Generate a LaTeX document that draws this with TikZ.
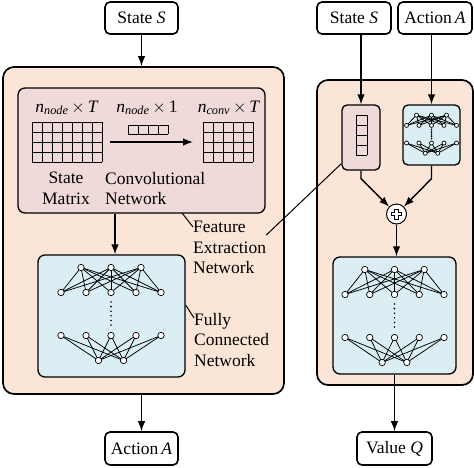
\documentclass[tikz,border=0pt]{standalone}
\usepackage{fontspec}
\setmainfont{Liberation Serif}
\usetikzlibrary{arrows.meta}

\definecolor{peach}{RGB}{251,229,214}
\definecolor{rosy}{RGB}{240,217,217}
\definecolor{icy}{RGB}{218,238,243}

% small fully connected net: centre x, centre y, x step, y scale, neuron radius
\newcommand{\fcnet}[5]{%
\begin{scope}[shift={(#1,#2)}]
  \foreach \a in {-1.2,0,1.2}
    \foreach \b in {-2,...,2}
      \draw[netline] (\a*#3,-46*#4) -- (\b*#3,-21*#4);
  \foreach \a in {-2,...,2}
    \foreach \b in {-0.5,0.5}
      \draw[netline] (\a*#3,22*#4) -- (\b*#3,47*#4);
  \foreach \a in {-1.2,0,1.2}
    \draw[neuron] (\a*#3,-46*#4) circle (#5);
  \foreach \a in {-2,...,2} {
    \draw[neuron] (\a*#3,-21*#4) circle (#5);
    \draw[neuron] (\a*#3,22*#4) circle (#5);
  }
  \foreach \a in {-0.5,0.5}
    \draw[neuron] (\a*#3,47*#4) circle (#5);
  \foreach \k in {0,...,5}
    \fill (0,{(-11.5+4.6*\k)*#4}) circle (0.9pt);
\end{scope}}

% matrix of cells: x0, y0, columns, rows, cell width, cell height
\newcommand{\cellgrid}[6]{%
  \foreach \i in {0,...,#3}
    \draw[gridline] (#1+#5*\i,#2) -- (#1+#5*\i,#2+#6*#4);
  \foreach \j in {0,...,#4}
    \draw[gridline] (#1,#2+#6*\j) -- (#1+#5*#3,#2+#6*\j);}

\begin{document}
\begin{tikzpicture}[
    x=1pt, y=-1pt,
    font=\fontsize{17.5}{20.5}\selectfont,
    tag/.style={
        rectangle,
        rounded corners=5pt,
        draw=black,
        line width=1.6pt,
        fill=white,
        minimum height=32pt,
        inner sep=0pt
    },
    bigbox/.style={
        rectangle,
        rounded corners=11pt,
        draw=black,
        line width=1.7pt,
        fill=peach
    },
    featbox/.style={
        rectangle,
        rounded corners=7pt,
        draw=black,
        line width=1.3pt,
        fill=rosy
    },
    netbox/.style={
        rectangle,
        rounded corners=7pt,
        draw=black,
        line width=1.3pt,
        fill=icy
    },
    arr/.style={line width=1.4pt, -{Latex[length=10pt,width=7.5pt]}},
    leader/.style={line width=1pt},
    netline/.style={line width=0.75pt},
    neuron/.style={draw=black, fill=white, line width=0.7pt},
    gridline/.style={line width=0.7pt},
    lbl/.style={inner sep=0pt, align=left}
]
\useasboundingbox (0,0) rectangle (474,467);

% left: policy part
\node[tag, minimum width=73pt] (stateL) at (141.5,18) {State \textit{S}};
\node[bigbox, minimum width=281pt, minimum height=327pt] (bigL) at (143.5,230.5) {};
\node[featbox, minimum width=247pt, minimum height=125pt] (pinkL) at (141.5,150.5) {};
\node[netbox, minimum width=147pt, minimum height=122pt] (blueL) at (111.5,316) {};
\node[tag, minimum width=73pt, minimum height=33pt] (actionL) at (141.5,448.5) {Action\,\textit{A}};

\node[anchor=base, inner sep=0pt] (dimin) at (67,112) {\textit{n}\textsubscript{\textit{node}}\,$\times$\,\textit{T}};
\node[anchor=base, inner sep=0pt] (dimk) at (147,112) {\textit{n}\textsubscript{\textit{node}}\,$\times$\,1};
\node[anchor=base, inner sep=0pt] (dimout) at (229,112) {\textit{n}\textsubscript{\textit{conv}}\,$\times$\,\textit{T}};
\cellgrid{32}{122}{7}{4}{10}{10}
\cellgrid{128}{125}{4}{1}{10}{9}
\cellgrid{203}{122}{5}{4}{10}{10}
\coordinate (convin) at (110,142);
\coordinate (convout) at (193,142);
\draw[arr] (convin) -- (convout);
\node[lbl, align=center, anchor=north] (matlbl) at (66,172) {State\\Matrix};
\node[lbl, anchor=north west] (convlbl) at (105,172) {Convolutional\\Network};

\fcnet{111}{313.5}{25}{1}{3.2pt}

\node[lbl, anchor=north west] (feat) at (193,221) {Feature\\Extraction\\Network};
\node[lbl, anchor=north west] (fc) at (194,313) {Fully\\Connected\\Network};
\coordinate (featpin) at (182,213);
\draw[leader] (featpin) -- ([yshift=-6pt]feat.north west);
\draw[leader] ([yshift=11pt]blueL.east) -- ([yshift=-5pt]fc.north west);

\draw[arr] (stateL.south) -- (stateL.south |- bigL.north);
\draw[arr] ([xshift=3.5pt]blueL.north |- pinkL.south) -- ([xshift=3.5pt]blueL.north);
\draw[arr] (actionL.north |- bigL.south) -- (actionL.north);

% right: value part
\node[tag, minimum width=74pt] (stateR) at (354,18) {State \textit{S}};
\node[tag, minimum width=74pt] (actionR) at (435,18) {Action\,\textit{A}};
\node[bigbox, minimum width=156pt, minimum height=305pt] (bigR) at (395,232.5) {};
\node[featbox, rounded corners=5pt, minimum width=38pt, minimum height=65pt] (pinkR) at (361,137.5) {};
\node[netbox, rounded corners=5pt, minimum width=57pt, minimum height=60pt] (blueR) at (431.5,135) {};
\node[circle, draw=black, fill=white, line width=1pt, minimum size=20pt, inner sep=0pt] (plus) at (396.5,214) {};
\node[netbox, minimum width=123pt, minimum height=117pt] (blueR2) at (394.5,315.5) {};
\node[tag, minimum width=75pt, minimum height=33pt] (valueQ) at (394.5,448.5) {Value \textit{Q}};

\cellgrid{356}{115}{1}{4}{11}{10}
\fcnet{431.5}{134}{12.5}{0.41}{2pt}
\fcnet{394.5}{315.5}{24.75}{1}{3.2pt}
\draw[line width=0.8pt] (plus.center) ++(-1.7,-5) -- ++(3.4,0) -- ++(0,3.3) -- ++(3.3,0)
    -- ++(0,3.4) -- ++(-3.3,0) -- ++(0,3.3) -- ++(-3.4,0) -- ++(0,-3.3) -- ++(-3.3,0)
    -- ++(0,-3.4) -- ++(3.3,0) -- cycle;

\draw[arr] (pinkR.north |- stateR.south) -- (pinkR.north);
\draw[arr] (blueR.north |- actionR.south) -- (blueR.north);
\draw[arr] (pinkR.south) -- ++(0,8) -- (plus.135);
\draw[arr] (blueR.south) -- ++(0,13) -- (plus.45);
\draw[arr] (plus.south) -- (plus.south |- blueR2.north);
\draw[arr] (blueR2.south) -- (valueQ.north);

\draw[leader] ([yshift=7pt]pinkR.south west) -- ([yshift=-14pt]feat.north east);

\end{tikzpicture}
\end{document}
